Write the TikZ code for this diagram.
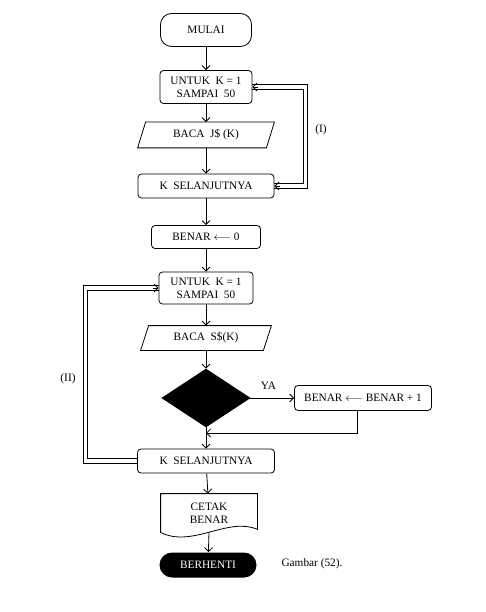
\documentclass[tikz,border=0pt]{standalone}
\usepackage{fontspec}
\setmainfont{Liberation Serif}
\usetikzlibrary{arrows.meta,shapes.geometric,calc}
\begin{document}
\begin{tikzpicture}[x=1pt,y=-1pt,
  font=\fontsize{11.3}{13}\selectfont,
  line width=0.8pt,
  arr/.style={-{Straight Barb[length=4pt,width=8pt]}},
  rbox/.style={draw, rounded corners=3.5pt, align=center, inner sep=2pt},
  pbox/.style={minimum width=#1, minimum height=25pt, inner sep=2pt},
]
\useasboundingbox (0,0) rectangle (486,612);

% nodes
\node[draw, rounded corners=11pt, minimum width=91pt, minimum height=33pt] (mulai) at (206,30) {MULAI};
\node[rbox, minimum width=92pt, minimum height=33pt] (untuk1) at (206,87) {UNTUK\ \ K = 1\\SAMPAI\ \ 50};
\node[pbox=136pt] (baca1) at (206,135) {BACA\ \ J\$ (K)};
\node[rbox, minimum width=136pt, minimum height=24pt] (sel1) at (206,186) {K\ \ SELANJUTNYA};
\node[rbox, minimum width=109pt, minimum height=23pt] (benar0) at (206,237) {BENAR $\longleftarrow$ 0};
\node[rbox, minimum width=94pt, minimum height=32pt] (untuk2) at (206,288) {UNTUK\ \ K = 1\\SAMPAI\ \ 50};
\node[pbox=130pt, minimum height=24pt] (baca2) at (206,338) {BACA\ \ S\$(K)};
\node[diamond, draw, fill=black, minimum width=88pt, minimum height=58pt, inner sep=0pt] (dec) at (206,398) {};
\node[rbox, minimum width=137pt, minimum height=25pt] (benar1) at (363,398) {BENAR $\longleftarrow$ BENAR + 1};
\node[rbox, minimum width=137pt, minimum height=24pt] (sel2) at (206,461) {K\ \ SELANJUTNYA};
\node[minimum width=96pt, minimum height=38pt, align=center, inner sep=2pt] (cetak) at (209,513) {CETAK\\BENAR};
\node[fill=black, text=white, rounded corners=12.5pt, minimum width=97pt, minimum height=25pt] (stop) at (208,565) {BERHENTI};
\node (gambar) at (312,564) {Gambar (52).};
\node (lI) at (321,130) {(I)};
\node (lII) at (68,379) {(II)};
\node (ya) at (268.5,386) {YA};

% parallelograms
\draw ($(baca1.north west)+(8,0)$) -- (baca1.north east) -- ($(baca1.south east)+(-8,0)$) -- (baca1.south west) -- cycle;
\draw ($(baca2.north west)+(8,0)$) -- (baca2.north east) -- ($(baca2.south east)+(-8,0)$) -- (baca2.south west) -- cycle;

% document shape
\draw (cetak.north west) -- (cetak.north east) -- ($(cetak.south east)+(0,-3)$)
  .. controls ($(cetak.south)+(19,-16)$) and ($(cetak.south)+(-17,16)$) .. (cetak.south west) -- cycle;

% main flow
\draw[arr] (mulai) -- (untuk1);
\draw[arr] (untuk1) -- (baca1);
\draw[arr] (baca1) -- (sel1);
\draw[arr] (sel1) -- (benar0);
\draw[arr] (benar0) -- (untuk2);
\draw[arr] (untuk2) -- (baca2);
\draw[arr] (baca2) -- (dec);
\draw[arr] (dec) -- (sel2);
\draw[arr] (sel2) -- (cetak);
\draw[arr] (cetak.south) -- (stop);
\draw[arr] (dec.east) -- (benar1.west);

% return from benar1
\coordinate (join) at (206,433);
\draw[arr] ([xshift=-6pt]benar1.south) |- (join);

% loop I (double line)
\coordinate (cI) at (305.5,0);
\draw ($(untuk1.east)+(0,2.2)$) -| ($(sel1.east -| cI)+(-2.2,-2.2)$) -- ($(sel1.east)+(0,-2.2)$);
\draw ($(untuk1.east)+(0,-2.2)$) -| ($(sel1.east -| cI)+(2.2,2.2)$) -- ($(sel1.east)+(0,2.2)$);
\draw[arr] ([xshift=6pt]untuk1.east) -- (untuk1.east);
\draw[arr] ([xshift=6pt]sel1.east) -- (sel1.east);

% loop II (double line)
\coordinate (cII) at (85.5,0);
\draw ($(untuk2.west)+(0,2.2)$) -| ($(sel2.west -| cII)+(2.2,-2.2)$) -- ($(sel2.west)+(0,-2.2)$);
\draw ($(untuk2.west)+(0,-2.2)$) -| ($(sel2.west -| cII)+(-2.2,2.2)$) -- ($(sel2.west)+(0,2.2)$);
\draw[arr] ([xshift=-6pt]untuk2.west) -- (untuk2.west);
\end{tikzpicture}
\end{document}
